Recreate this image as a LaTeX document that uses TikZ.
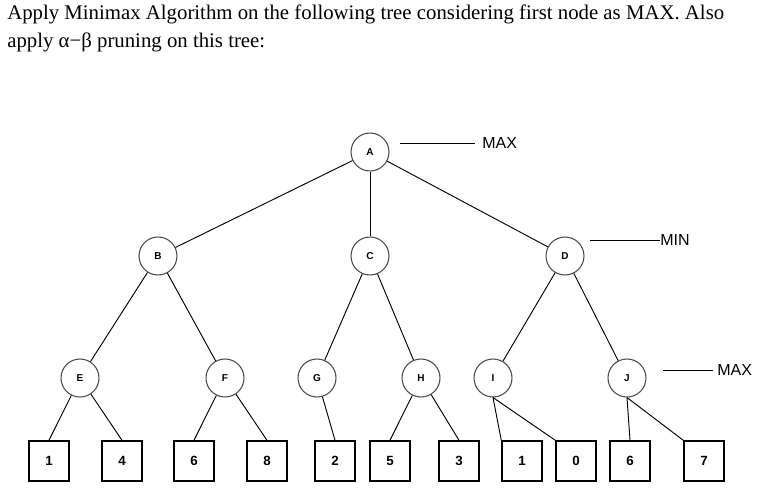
\documentclass[tikz,border=0pt]{standalone}
\usepackage{fontspec}
\setmainfont{Liberation Serif}
\newfontfamily\sfx{Liberation Sans}
\begin{document}
\begin{tikzpicture}[x=0.75pt,y=-0.75pt,
  cn/.style={circle,draw=black!70,line width=0.8pt,minimum size=28.5pt,inner sep=0pt,font=\sfx\bfseries\fontsize{7.5}{8}\selectfont},
  lf/.style={draw,line width=1.1pt,minimum size=30pt,inner sep=0pt,font=\sfx\bfseries\fontsize{10}{12}\selectfont},
  ed/.style={line width=0.7pt},
  lb/.style={font=\sfx\fontsize{12}{14}\selectfont,anchor=west,inner sep=0pt}]
\useasboundingbox (0,0) rectangle (760,489);
\node[anchor=north west,inner sep=0pt,align=left,font=\fontsize{15.6}{20.5}\selectfont] (t) at (7,5)
 {Apply Minimax Algorithm on the following tree considering first node as MAX. Also\\apply α−β pruning on this tree:};
\node[cn] (A) at (370,152) {A};
\node[cn] (B) at (158,256) {B};
\node[cn] (C) at (370,256) {C};
\node[cn] (D) at (565,256) {D};
\node[cn] (E) at (80,378) {E};
\node[cn] (F) at (225,378) {F};
\node[cn] (G) at (317,378) {G};
\node[cn] (H) at (421,378) {H};
\node[cn] (I) at (493,378) {I};
\node[cn] (J) at (627,378) {J};
\node[lf] (l1) at (49,461) {1};
\node[lf] (l2) at (122,461) {4};
\node[lf] (l3) at (194,461) {6};
\node[lf] (l4) at (267,461) {8};
\node[lf] (l5) at (335,461) {2};
\node[lf] (l6) at (390,461) {5};
\node[lf] (l7) at (459,461) {3};
\node[lf] (l8) at (522,461) {1};
\node[lf] (l9) at (576,461) {0};
\node[lf] (l10) at (630,461) {6};
\node[lf] (l11) at (704,461) {7};
\draw[ed] (A) -- (B); \draw[ed] (A) -- (C); \draw[ed] (A) -- (D);
\draw[ed] (B) -- (E); \draw[ed] (B) -- (F);
\draw[ed] (C) -- (G); \draw[ed] (C) -- (H);
\draw[ed] (D) -- (I); \draw[ed] (D) -- (J);
\draw[ed] (E) -- (l1.north); \draw[ed] (E) -- (l2.north);
\draw[ed] (F) -- (l3.north); \draw[ed] (F) -- (l4.north);
\draw[ed] (G) -- (l5.north);
\draw[ed] (H) -- (l6.north); \draw[ed] (H) -- (l7.north);
\draw[ed] (I.south) -- (l8.north west); \draw[ed] (I.south) -- (l9.north west);
\draw[ed] (J.south) -- (l10.north); \draw[ed] (J.south) -- (l11.north west);
\coordinate (m1) at (475,143); \node[lb] (t1) at (482,143) {MAX};
\draw[ed] (400,143) coordinate (a1) -- (m1);
\coordinate (m2) at (660,240); \node[lb] (t2) at (660,240) {MIN};
\draw[ed] (590,240) coordinate (a2) -- (m2);
\coordinate (m3) at (713,370); \node[lb] (t3) at (717,370) {MAX};
\draw[ed] (663,370) coordinate (a3) -- (m3);
\end{tikzpicture}
\end{document}
